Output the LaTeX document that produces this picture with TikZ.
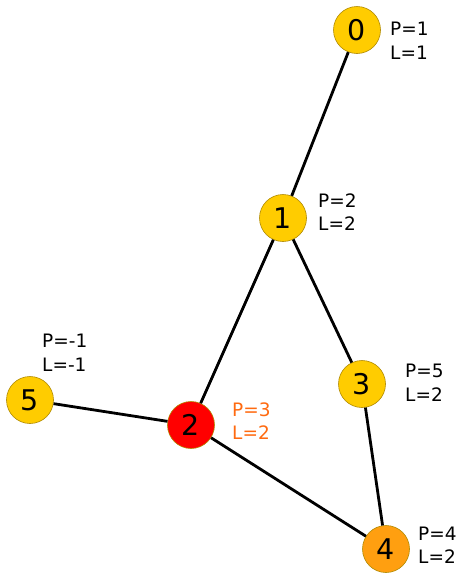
\documentclass[tikz,border=0pt]{standalone}
\usepackage{fontspec}
\setmainfont{DejaVu Sans}
\definecolor{ngold}{HTML}{FFCC00}
\definecolor{norange}{HTML}{FF9F10}
\definecolor{nred}{HTML}{FF0000}
\definecolor{nedge}{HTML}{B08A00}
\definecolor{lorange}{HTML}{FF6A10}
\begin{document}
\begin{tikzpicture}[x=1pt,y=-1pt,
  vert/.style={circle,draw=nedge,line width=0.6pt,minimum size=47pt,inner sep=0pt,
    font=\fontsize{28.5}{28.5}\selectfont},
  lab/.style={anchor=west,align=left,inner sep=0pt,font=\fontsize{18.5}{23.5}\selectfont},
  edge/.style={line width=2.8pt,black}]
\useasboundingbox (0,0) rectangle (474,579);
\node[vert,fill=ngold] (n0) at (357,30) {0};
\node[vert,fill=ngold] (n1) at (283,218) {1};
\node[vert,fill=nred] (n2) at (191,425) {2};
\node[vert,fill=ngold] (n3) at (362,384) {3};
\node[vert,fill=norange] (n4) at (386,549) {4};
\node[vert,fill=ngold] (n5) at (30,400) {5};
\draw[edge] (n0) -- (n1);
\draw[edge] (n1) -- (n2);
\draw[edge] (n1) -- (n3);
\draw[edge] (n5) -- (n2);
\draw[edge] (n2) -- (n4);
\draw[edge] (n3) -- (n4);
\node[lab] (l0) at (390,41) {P=1\\L=1};
\node[lab] (l1) at (318,212) {P=2\\L=2};
\node[lab,text=lorange] (l2) at (232,421) {P=3\\L=2};
\node[lab] (l3) at (405,383) {P=5\\L=2};
\node[lab] (l4) at (418,545) {P=4\\L=2};
\node[lab] (l5) at (42,353) {P=-1\\L=-1};
\end{tikzpicture}
\end{document}
